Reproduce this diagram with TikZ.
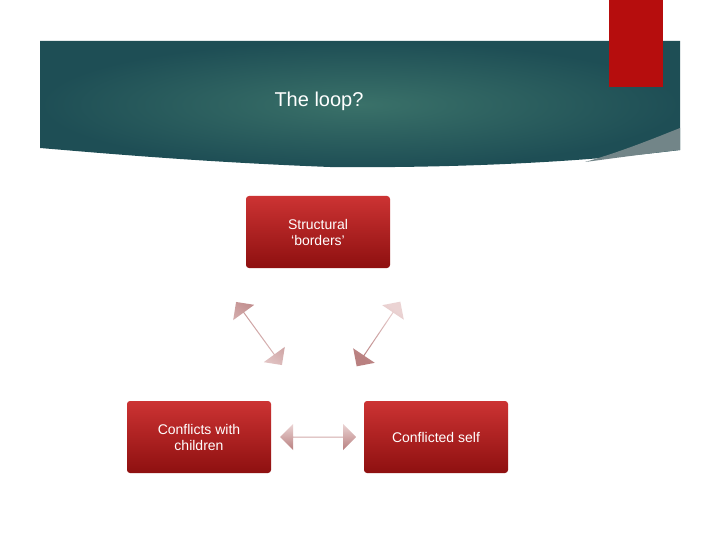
\documentclass[tikz,border=0pt]{standalone}
\usepackage{fontspec}
\setmainfont{Liberation Sans}
\usetikzlibrary{shapes.arrows,shadings}
\definecolor{teal1}{HTML}{1E4E55}
\definecolor{teal2}{HTML}{3A7169}
\definecolor{boxtop}{HTML}{CC3333}
\definecolor{boxbot}{HTML}{8E1010}
\tikzset{
 box/.style={draw=none,rounded corners=3pt,minimum width=144pt,minimum height=72pt,
   top color=boxtop,bottom color=boxbot,text=white,align=center,font=\fontsize{14}{16}\selectfont},
 darr/.style={double arrow,double arrow head extend=5pt,minimum width=26pt,inner sep=0pt,
   left color=red!45!black!50!white,right color=red!10!white!92!black,draw=none}
}
\begin{document}
\begin{tikzpicture}[x=1pt,y=-1pt]
\useasboundingbox (0,0) rectangle (720,540);
\fill[white] (0,0) rectangle (720,540);
\shade[inner color=teal2,outer color=teal1] (40,41) -- (680,41) -- (680,150) .. controls (560,165) and (420,168) .. (330,167) .. controls (200,162) and (100,153) .. (40,148) -- cycle;
\fill[teal1!50!gray!80!white] (680,128) .. controls (650,140) and (620,152) .. (585,162) .. controls (630,156) and (660,152) .. (680,150) -- cycle;
\fill[red!70!black!95!white] (609,0) rectangle (663,87);
\node[text=white,font=\fontsize{20}{24}\selectfont] (title) at (319,101) {The loop?};
\node[box] (top) at (318,232) {Structural\\‘borders’};
\node[box] (left) at (199,437) {Conflicts with\\children};
\node[box] (right) at (436,437) {Conflicted self};
\coordinate (a1) at (282,302); \coordinate (a2) at (236,365);
\coordinate (b1) at (357,302); \coordinate (b2) at (400,366);
\coordinate (c1) at (280,437); \coordinate (c2) at (356,437);
\node[darr,minimum height=78pt,rotate=-54,shading angle=-36] (arrL) at (259,333.5) {};
\node[darr,minimum height=78pt,rotate=56,shading angle=146] (arrR) at (378.5,334) {};
\node[darr,minimum height=76pt,shading angle=0,top color=red!10!white!92!black,bottom color=red!45!black!50!white] (arrB) at (318,437) {};
\end{tikzpicture}
\end{document}
